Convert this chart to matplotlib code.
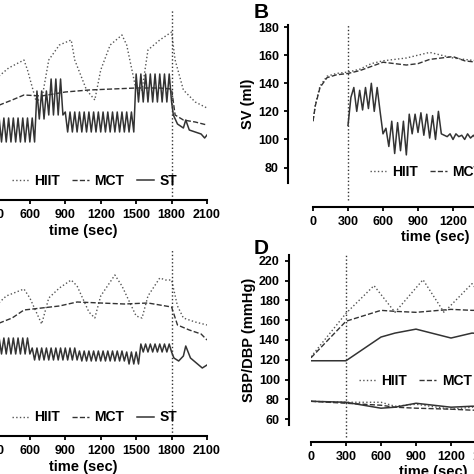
import numpy as np
import matplotlib.pyplot as plt

plt.rcParams['font.family'] = 'Liberation Sans'
plt.rcParams['font.weight'] = 'bold'

W = 474.0

# ---- panel A (top-left), arbitrary units, only right part visible
a_t_hiit = [0, 150, 300, 420, 550, 580, 650, 700, 760, 850, 950, 980, 1080, 1150, 1200, 1280, 1380, 1420, 1500, 1550, 1600, 1700, 1800, 1830, 1900, 2000, 2100]
a_hiit = [90, 105, 120, 132, 140, 130, 100, 100, 140, 155, 160, 140, 110, 100, 130, 155, 165, 155, 110, 110, 150, 160, 168, 140, 110, 98, 92]
a_t_mct = [0, 300, 450, 550, 700, 900, 1100, 1300, 1500, 1700, 1800, 1830, 1900, 2000, 2100]
a_mct = [80, 93, 100, 105, 104, 108, 110, 111, 112, 112, 111, 85, 80, 78, 75]
a_t_st = list(range(300, 1801, 20)) + [1815, 1850, 1900, 1920, 1950, 2000, 2050, 2080, 2100]
a_st_mid = [70] * 18 + [95] * 5 + [103] * 7 + [78] * 30 + [112] * 16
a_st_amp = [12] * 18 + [14] * 5 + [18] * 7 + [10] * 30 + [14] * 16
a_st = [m + (a if i % 2 == 0 else -a) for i, (m, a) in enumerate(zip(a_st_mid, a_st_amp))]
a_st += [85, 76, 72, 80, 70, 68, 66, 62, 65]

# ---- panel C (bottom-left)
c_t_hiit = [0, 150, 300, 400, 550, 600, 700, 760, 850, 950, 1000, 1100, 1150, 1200, 1320, 1380, 1500, 1550, 1600, 1700, 1750, 1800, 1850, 1900, 2000, 2100]
c_hiit = [115, 122, 129, 140, 147, 138, 112, 138, 148, 156, 150, 124, 118, 140, 161, 150, 120, 118, 140, 158, 156, 156, 130, 118, 114, 111]
c_t_mct = [0, 300, 450, 550, 700, 850, 1000, 1200, 1400, 1600, 1800, 1850, 1950, 2050, 2100]
c_mct = [105, 111, 118, 126, 128, 130, 134, 133, 132, 133, 129, 111, 106, 102, 96]
c_t_st = list(range(300, 1801, 20)) + [1820, 1860, 1900, 1920, 1960, 2000, 2060, 2100]
c_st_mid = [90] * 16 + [82] * 20 + [80] * 20 + [78] * 6 + [88] * 14
c_st_amp = [8] * 16 + [6] * 20 + [5] * 20 + [6] * 6 + [4] * 14
c_st = [m + (a if i % 2 == 0 else -a) for i, (m, a) in enumerate(zip(c_st_mid, c_st_amp))]
c_st += [78, 75, 80, 90, 78, 74, 68, 71]

# ---- panel B SV (ml)
b_t = [0, 20, 60, 120, 200, 300, 400, 500, 600, 700, 800, 900, 1000, 1100, 1200, 1300, 1400, 1500]
b_hiit = [113, 125, 138, 145, 147, 148, 150, 154, 156, 157, 158, 160, 162, 160, 158, 157, 156, 155]
b_mct = [113, 124, 137, 144, 146, 147, 149, 152, 155, 154, 153, 154, 157, 158, 159, 156, 155, 154]
b_t_st = list(range(300, 1501, 25))
b_st = [110, 130, 137, 120, 135, 121, 137, 122, 140, 120, 137, 120, 104, 108, 95, 113, 90, 112, 92, 113, 89, 118,
        104, 118, 105, 119, 103, 118, 101, 117, 100, 120, 104, 103, 102, 104, 100, 104, 102, 103, 100, 104, 101, 103, 100, 104, 101, 103, 100]

# ---- panel D SBP/DBP (mmHg)
d_t_hiit = [0, 300, 540, 720, 960, 1140, 1380, 1560]
d_sbp_hiit = [123, 167, 195, 168, 201, 168, 197, 170]
d_t = [0, 300, 600, 720, 900, 1200, 1380, 1500]
d_sbp_mct = [122, 159, 170, 169, 168, 171, 170, 170]
d_sbp_st = [119, 119, 143, 147, 151, 142, 147, 146]
d_dbp_hiit = [78, 77, 77, 73, 75, 70, 72, 72]
d_dbp_mct = [78, 76, 74, 72, 71, 70, 69, 69]
d_dbp_st = [78, 77, 71, 72, 76, 72, 73, 73]

fig = plt.figure(figsize=(4.74, 4.74), dpi=100)


def add_ax(x0, y_top, w, h):
    return fig.add_axes([x0 / W, 1 - (y_top + h) / W, w / W, h / W])


styles = dict(HIIT=dict(ls=':', color='#555555', lw=1.0),
              MCT=dict(ls='--', color='#333333', lw=1.0),
              ST=dict(ls='-', color='#333333', lw=1.1))


def style(ax, xt):
    for s in ['top', 'right']:
        ax.spines[s].set_visible(False)
    for s in ['left', 'bottom']:
        ax.spines[s].set_linewidth(1.5)
    ax.set_xticks(xt)
    ax.tick_params(labelsize=9, width=1.3, length=3)
    for lab in ax.get_xticklabels() + ax.get_yticklabels():
        lab.set_fontweight('bold')
    ax.set_xlabel('time (sec)', fontsize=10.5, fontweight='bold', labelpad=2)


def legend(ax, x, y):
    ax.legend(['HIIT', 'MCT', 'ST'], loc='center left', bbox_to_anchor=(x, y), ncol=3,
              frameon=False, fontsize=10, handlelength=1.2, handletextpad=0.4, columnspacing=0.9)


xt_left = [0, 300, 600, 900, 1200, 1500, 1800, 2100]

# A
ax = add_ax(-41, 10, 248, 190)
ax.plot(a_t_hiit, a_hiit, **styles['HIIT'])
ax.plot(a_t_mct, a_mct, **styles['MCT'])
ax.plot(a_t_st, a_st, **styles['ST'])
ax.axvline(1800, ls=':', color='#333333', lw=1)
ax.set_xlim(0, 2100)
ax.set_ylim(0, 190)
style(ax, xt_left)
ax.set_yticks([])
legend(ax, 0.163, 0.1)

# C
ax = add_ax(-41, 250, 248, 186)
ax.plot(c_t_hiit, c_hiit, **styles['HIIT'])
ax.plot(c_t_mct, c_mct, **styles['MCT'])
ax.plot(c_t_st, c_st, **styles['ST'])
ax.axvline(1800, ls=':', color='#333333', lw=1)
ax.set_xlim(0, 2100)
ax.set_ylim(0, 186)
style(ax, xt_left)
ax.set_yticks([])
legend(ax, 0.163, 0.1)

# B
ax = add_ax(313, 25, 245, 158)
ax.plot(b_t, b_hiit, **styles['HIIT'])
ax.plot(b_t, b_mct, **styles['MCT'])
ax.plot(b_t_st, b_st, **styles['ST'])
ax.axvline(300, ymin=-0.11, ls=':', color='#333333', lw=1, clip_on=False)
ax.set_xlim(0, 2100)
ax.set_ylim(69, 181.5)
style(ax, xt_left)
ax.spines['left'].set_position(('outward', 18))
ax.spines['bottom'].set_position(('outward', 17))
ax.set_yticks([80, 100, 120, 140, 160, 180])
ax.set_ylabel('SV (ml)', fontsize=10.5, fontweight='bold', labelpad=2)
legend(ax, 0.18, 0.07)
fig.text(254 / W, 1 - 12 / W, 'B', fontsize=15, fontweight='bold', va='center')

# D
ax = add_ax(311, 255, 245, 170)
ax.plot(d_t_hiit, d_sbp_hiit, **styles['HIIT'])
ax.plot(d_t, d_sbp_mct, **styles['MCT'])
ax.plot(d_t, d_sbp_st, **styles['ST'])
ax.plot(d_t, d_dbp_hiit, **styles['HIIT'])
ax.plot(d_t, d_dbp_mct, **styles['MCT'])
ax.plot(d_t, d_dbp_st, **styles['ST'])
ax.axvline(300, ymin=-0.07, ls=':', color='#333333', lw=1, clip_on=False)
ax.set_xlim(0, 2100)
ax.set_ylim(54, 226)
style(ax, xt_left)
ax.spines['left'].set_position(('outward', 16))
ax.spines['bottom'].set_position(('outward', 12))
ax.set_yticks(list(range(60, 221, 20)))
ax.set_ylabel('SBP/DBP (mmHg)', fontsize=10.5, fontweight='bold', labelpad=2)
legend(ax, 0.145, 0.26)
fig.text(254 / W, 1 - 248 / W, 'D', fontsize=15, fontweight='bold', va='center')

fig.savefig('out.png', dpi=100)
